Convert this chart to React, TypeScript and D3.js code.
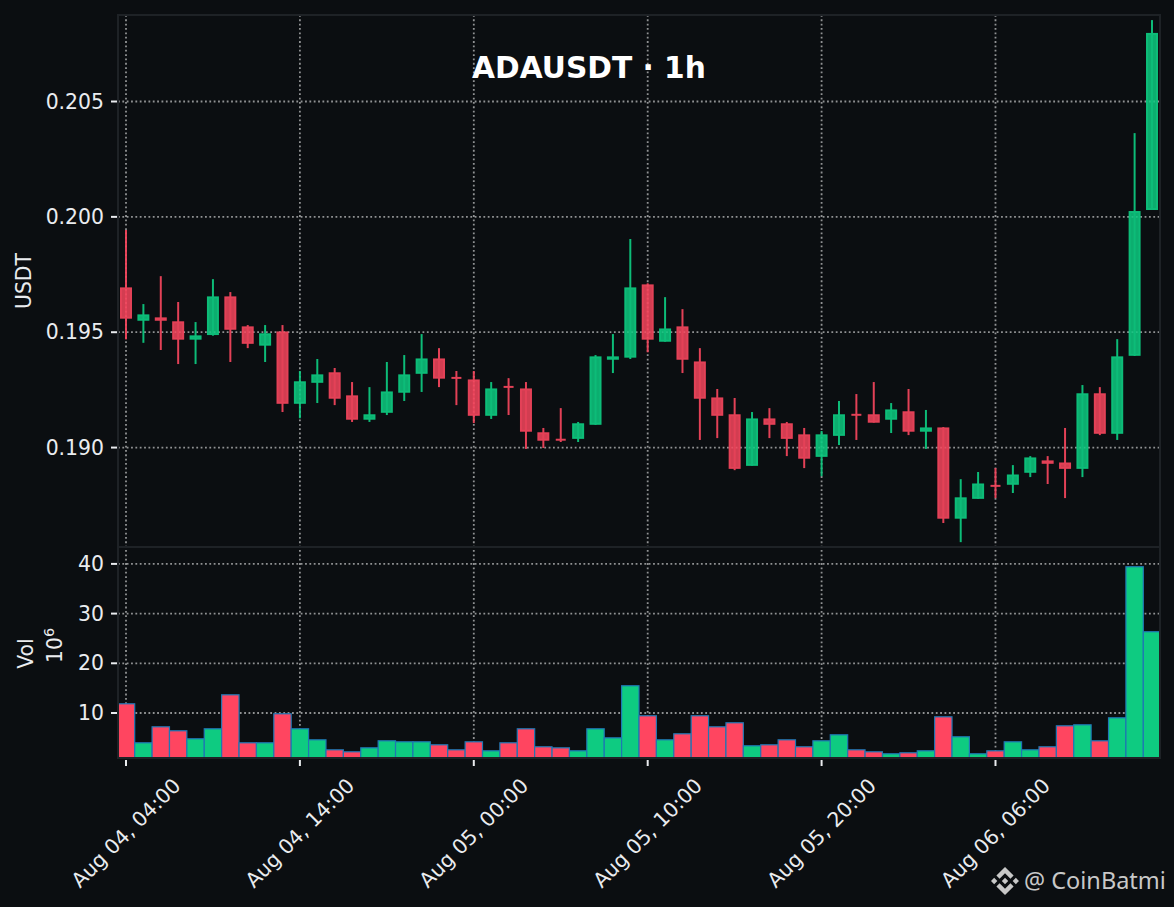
import * as d3 from 'd3';

const opens = [
  0.1969, 0.19554, 0.1956, 0.19543, 0.19472, 0.19492, 0.19651, 0.19521, 0.19446, 0.19499,
  0.19194, 0.19285, 0.19322, 0.19222, 0.19125, 0.19155, 0.19242, 0.19324, 0.19382, 0.19302,
  0.19291, 0.19142, 0.19263, 0.19252, 0.19062, 0.19034, 0.19042, 0.19103, 0.19385, 0.19394,
  0.19703, 0.19463, 0.19521, 0.19369, 0.19213, 0.1914, 0.18925, 0.19122, 0.19101, 0.19053,
  0.18964, 0.19055, 0.19142, 0.1914, 0.19125, 0.19153, 0.19073, 0.19083, 0.18696, 0.18782,
  0.18834, 0.18843, 0.18895, 0.1894, 0.18931, 0.18912, 0.19231, 0.19064, 0.19402, 0.20034,
];
const highs = [
  0.19943, 0.19622, 0.19743, 0.19631, 0.19544, 0.1973, 0.19674, 0.19531, 0.19531, 0.19531,
  0.19332, 0.19384, 0.19345, 0.19284, 0.19262, 0.19371, 0.19401, 0.19492, 0.19431, 0.19332,
  0.19332, 0.19284, 0.19301, 0.19284, 0.19085, 0.19171, 0.19111, 0.19401, 0.19492, 0.19904,
  0.19712, 0.19652, 0.196, 0.19431, 0.19254, 0.19215, 0.19154, 0.19171, 0.19111, 0.19085,
  0.19072, 0.19202, 0.19232, 0.19284, 0.19193, 0.19254, 0.19163, 0.19089, 0.18863, 0.18894,
  0.18911, 0.18924, 0.18963, 0.18963, 0.19085, 0.19271, 0.19262, 0.1947, 0.20363, 0.20853,
];
const lows = [
  0.19469, 0.19454, 0.19423, 0.19362, 0.19362, 0.19485, 0.19371, 0.19431, 0.19371, 0.19154,
  0.19127, 0.19193, 0.19184, 0.19111, 0.19111, 0.19141, 0.19202, 0.19241, 0.19262, 0.19184,
  0.19106, 0.19124, 0.19141, 0.18994, 0.18998, 0.19024, 0.19024, 0.19098, 0.19323, 0.19384,
  0.19413, 0.19459, 0.19323, 0.19033, 0.19041, 0.18902, 0.18921, 0.19041, 0.18963, 0.18911,
  0.18876, 0.19011, 0.19033, 0.19108, 0.19063, 0.19054, 0.18994, 0.18673, 0.1859, 0.18778,
  0.18781, 0.18803, 0.18872, 0.18842, 0.18781, 0.18872, 0.19054, 0.19033, 0.19397, 0.20034,
];
const closes = [
  0.19563, 0.19573, 0.19554, 0.19472, 0.19482, 0.19651, 0.19515, 0.19454, 0.19491, 0.19194,
  0.19283, 0.19313, 0.19216, 0.19125, 0.1914, 0.19239, 0.19313, 0.19382, 0.19303, 0.19301,
  0.19142, 0.19252, 0.19262, 0.19073, 0.19034, 0.19033, 0.19101, 0.19391, 0.19391, 0.1969,
  0.19472, 0.19512, 0.19385, 0.19216, 0.19142, 0.18912, 0.19122, 0.19103, 0.19042, 0.18956,
  0.19053, 0.1914, 0.19141, 0.19112, 0.19161, 0.19073, 0.19083, 0.18696, 0.1878, 0.1884,
  0.18833, 0.18879, 0.18953, 0.18934, 0.18912, 0.19231, 0.19064, 0.19391, 0.20021, 0.20793,
];
const volumes = [
  11.85, 4.0, 7.22, 6.42, 4.81, 6.82, 13.66, 4.0, 4.0, 9.84,
  6.82, 4.6, 2.59, 2.19, 2.99, 4.4, 4.2, 4.2, 3.6, 2.59,
  4.2, 2.39, 4.0, 6.82, 3.2, 2.99, 2.39, 6.82, 5.0, 15.48,
  9.44, 4.6, 5.81, 9.44, 7.22, 8.03, 3.4, 3.6, 4.6, 3.2,
  4.4, 5.61, 2.59, 2.19, 1.79, 1.99, 2.39, 9.23, 5.21, 1.79,
  2.39, 4.2, 2.59, 3.2, 7.42, 7.62, 4.4, 9.03, 39.43, 26.35,
];

const priceTicks = [0.19, 0.195, 0.2, 0.205];
const volumeTicks = [10, 20, 30, 40];
const timeTicks = [0, 10, 20, 30, 40, 50];
const timeLabels = [
  'Aug 04, 04:00',
  'Aug 04, 14:00',
  'Aug 05, 00:00',
  'Aug 05, 10:00',
  'Aug 05, 20:00',
  'Aug 06, 06:00',
];

const BG = '#0b0e11';
const SPINE = '#1e2226';
const TEXT = '#eaecef';
const UP = '#0ecb81';
const DOWN = '#f6465d';
const FONT = '"DejaVu Sans", sans-serif';
const LOGO =
  'M38.73 53.2l24.59-24.58 24.6 24.6 14.3-14.31L63.32 0 24.41 38.9zM0 63.31l14.3-14.31 14.31 14.31-14.31 14.3zM38.73 73.41l24.59 24.59 24.6-24.6 14.31 14.29-38.9 38.91-38.91-38.88-.02-.02zM98 63.31l14.3-14.3 14.31 14.3-14.31 14.31zM77.83 63.3L63.32 48.78 52.59 59.51l-1.24 1.23-2.54 2.54 14.51 14.5 14.51-14.47z';

const left = 118;
const right = 1160;
const top = 15;
const split = 547;
const bottom = 758;

const x = d3.scaleLinear().domain([-0.46, 59.46]).range([left, right]);
const yPrice = d3.scaleLinear().domain([0.18569, 0.20875]).range([split, top]);
const yVol = d3.scaleLinear().domain([0.94, 43.4]).range([bottom, split]);

const bodyWidth = 10;
const barWidth = x(1) - x(0);

function Grid() {
  const dash = { stroke: '#fff', strokeOpacity: 0.55, strokeWidth: 1.8, strokeDasharray: '1.8 2.55' };
  return (
    <g>
      {timeTicks.map((t) => (
        <line key={t} x1={x(t)} x2={x(t)} y1={top} y2={bottom} {...dash} />
      ))}
      {priceTicks.map((t) => (
        <line key={t} x1={left} x2={right} y1={yPrice(t)} y2={yPrice(t)} {...dash} />
      ))}
      {volumeTicks.map((t) => (
        <line key={t} x1={left} x2={right} y1={yVol(t)} y2={yVol(t)} {...dash} />
      ))}
    </g>
  );
}

function Candles() {
  return (
    <g clipPath="url(#price-clip)" opacity={0.92}>
      {closes.map((c, i) => {
        const o = opens[i];
        const color = c >= o ? UP : DOWN;
        const cx = x(i);
        const y0 = yPrice(Math.max(o, c));
        const y1 = yPrice(Math.min(o, c));
        return (
          <g key={i}>
            <line x1={cx} x2={cx} y1={yPrice(highs[i])} y2={yPrice(lows[i])} stroke={color} strokeWidth={2} />
            {y1 - y0 < 0.8 ? (
              <line x1={cx - bodyWidth / 2} x2={cx + bodyWidth / 2} y1={y0} y2={y0} stroke={color} strokeWidth={2} />
            ) : (
              <rect
                x={cx - bodyWidth / 2}
                y={y0}
                width={bodyWidth}
                height={y1 - y0}
                fill={color}
                fillOpacity={0.92}
                stroke={color}
                strokeWidth={2}
              />
            )}
          </g>
        );
      })}
    </g>
  );
}

function VolumeBars() {
  return (
    <g clipPath="url(#vol-clip)">
      {volumes.map((v, i) => (
        <rect
          key={i}
          x={x(i) - barWidth / 2}
          y={yVol(v)}
          width={barWidth}
          height={bottom - yVol(v)}
          fill={closes[i] >= opens[i] ? UP : '#ff4560'}
          stroke="#1f77b4"
          strokeWidth={1.2}
        />
      ))}
    </g>
  );
}

function Axes() {
  return (
    <g fontFamily={FONT} fill={TEXT} fontSize={20.4}>
      <rect x={left} y={top} width={right - left} height={bottom - top} fill="none" stroke={SPINE} strokeWidth={2} />
      <line x1={left} x2={right} y1={split} y2={split} stroke={SPINE} strokeWidth={2} />
      {priceTicks.map((t) => (
        <g key={t}>
          <line x1={left - 7} x2={left - 1} y1={yPrice(t)} y2={yPrice(t)} stroke={TEXT} strokeWidth={2} />
          <text x={left - 14} y={yPrice(t)} textAnchor="end" dominantBaseline="central">
            {d3.format('.3f')(t)}
          </text>
        </g>
      ))}
      {volumeTicks.map((t) => (
        <g key={t}>
          <line x1={left - 7} x2={left - 1} y1={yVol(t)} y2={yVol(t)} stroke={TEXT} strokeWidth={2} />
          <text x={left - 14} y={yVol(t)} textAnchor="end" dominantBaseline="central">
            {t}
          </text>
        </g>
      ))}
      {timeTicks.map((t, i) => (
        <g key={t}>
          <line x1={x(t)} x2={x(t)} y1={bottom + 2} y2={bottom + 8} stroke={TEXT} strokeWidth={2} />
          <text
            transform={`translate(${x(t)},833) rotate(-45)`}
            textAnchor="middle"
            dominantBaseline="central"
          >
            {timeLabels[i]}
          </text>
        </g>
      ))}
      <text transform="translate(31,281) rotate(-90)" textAnchor="middle">
        USDT
      </text>
      <text transform="translate(33,653.5) rotate(-90)" textAnchor="middle">
        Vol
      </text>
      <text transform="translate(61.5,663) rotate(-90)">
        10
        <tspan dy={-8} fontSize={14.5}>
          6
        </tspan>
      </text>
      <text x={589} y={78} textAnchor="middle" fontSize={29.7} fontWeight="bold" fill="#fff">
        ADAUSDT · 1h
      </text>
    </g>
  );
}

function Watermark() {
  return (
    <g fill="#c8c8c8">
      <path d={LOGO} transform="translate(991,867) scale(0.2212)" />
      <text x={1024} y={889} fontFamily='"Noto Sans", sans-serif' fontSize={23.5}>
        @ CoinBatmi
      </text>
    </g>
  );
}

export default function App() {
  return (
    <svg
      width={1174}
      height={907}
      viewBox="0 0 1174 907"
      style={{ position: 'absolute', left: 0, top: 0, display: 'block', background: BG }}
    >
      <defs>
        <clipPath id="price-clip">
          <rect x={left} y={top} width={right - left} height={split - top} />
        </clipPath>
        <clipPath id="vol-clip">
          <rect x={left} y={split} width={right - left} height={bottom - split} />
        </clipPath>
      </defs>
      <rect width={1174} height={907} fill={BG} />
      <Grid />
      <VolumeBars />
      <Candles />
      <Axes />
      <Watermark />
    </svg>
  );
}
